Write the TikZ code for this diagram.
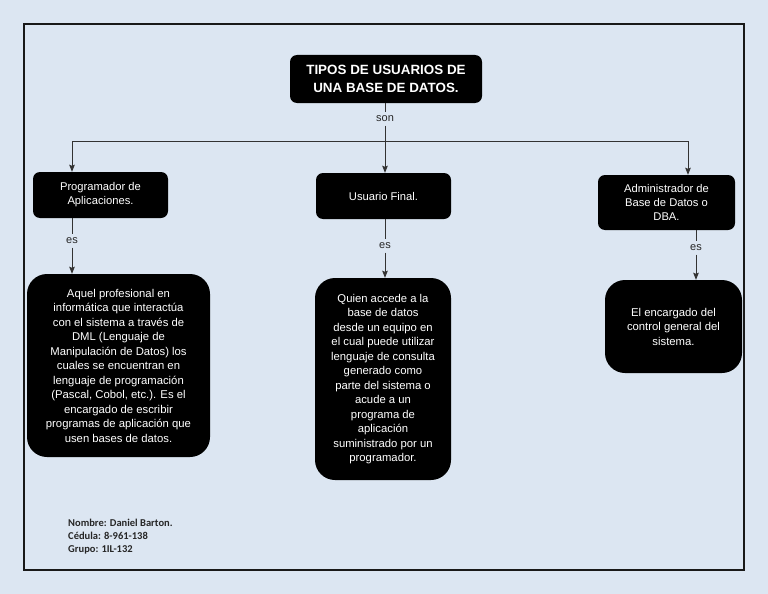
\documentclass[tikz,border=0pt]{standalone}
\usepackage{fontspec}
\setmainfont{Liberation Sans}
\newfontfamily\firmafont{Carlito}
\usetikzlibrary{arrows.meta}
\definecolor{fondo}{HTML}{DCE6F2}
\definecolor{trazo}{HTML}{333333}
\tikzset{
  caja/.style={fill=black, text=white, rounded corners=7pt, align=center,
    font=\fontsize{11.2}{14}\selectfont, inner sep=0pt},
  cajagrande/.style={caja, rounded corners=20pt, font=\fontsize{11.3}{14.5}\selectfont},
  etiqueta/.style={font=\fontsize{11}{13}\selectfont, text=black!85, inner sep=3.5pt},
  conector/.style={draw=trazo, line width=0.9pt},
  flecha/.style={conector, -{Stealth[length=7pt, width=5.5pt, inset=1pt]}},
}
\begin{document}
\begin{tikzpicture}[x=1pt, y=-1pt]
\fill[fondo] (0,0) rectangle (768,594);
\useasboundingbox (0,0) rectangle (768,594);
\draw[line width=2pt, draw=black!90] (24,24) rectangle (744,570);

% titulo
\node[caja, minimum width=192pt, minimum height=48pt,
  font=\bfseries\fontsize{13.4}{18}\selectfont] (titulo) at (386,79)
  {TIPOS DE USUARIOS DE\\UNA BASE DE DATOS.};
\node[etiqueta] (son) at (385,119) {son};

% tipos
\node[caja, minimum width=135pt, minimum height=46pt] (prog) at (100.5,195) {Programador de\\Aplicaciones.};
\node[caja, minimum width=135pt, minimum height=46pt] (final) at (383.5,196) {Usuario Final.};
\node[caja, minimum width=137pt, minimum height=55pt] (dba) at (666.5,202.5) {Administrador de\\Base de Datos o\\DBA.};

% descripciones
\node[etiqueta] (es1) at (72,241) {es};
\node[etiqueta] (es2) at (385,246) {es};
\node[etiqueta] (es3) at (696,248) {es};
\node[cajagrande, minimum width=183pt, minimum height=183pt] (desc1) at (118.5,365.5)
  {Aquel profesional en\\informática que interactúa\\con el sistema a través de\\DML (Lenguaje de\\Manipulación de Datos) los\\cuales se encuentran en\\lenguaje de programación\\(Pascal, Cobol, etc.). Es el\\encargado de escribir\\programas de aplicación que\\usen bases de datos.};
\node[cajagrande, minimum width=136pt, minimum height=202pt] (desc2) at (383,379)
  {Quien accede a la\\base de datos\\desde un equipo en\\el cual puede utilizar\\lenguaje de consulta\\generado como\\parte del sistema o\\acude a un\\programa de\\aplicación\\suministrado por un\\programador.};
\node[cajagrande, minimum width=137pt, minimum height=93pt] (desc3) at (673.5,326.5)
  {El encargado del\\control general del\\sistema.};

% firma
\node[anchor=north west, align=left, inner sep=0pt,
  font=\firmafont\bfseries\fontsize{10.5}{13}\selectfont, text=black!85] (firma) at (68,519)
  {Nombre: Daniel Barton.\\Cédula: 8-961-138\\Grupo: 1IL-132};

% conectores
\coordinate (izq) at (72,141);
\coordinate (der) at (688,141);
\draw[conector] (titulo.south -| son) -- (son.north);
\draw[conector] (izq) -- (der);
\draw[flecha] (son.south) -- (son.south |- final.north);
\draw[flecha] (izq) -- (izq |- prog.north);
\draw[flecha] (der) -- (der |- dba.north);

\draw[conector] (prog.south -| es1) -- (es1.north);
\draw[flecha] (es1.south) -- (es1.south |- desc1.north);
\draw[conector] (final.south -| es2) -- (es2.north);
\draw[flecha] (es2.south) -- (es2.south |- desc2.north);
\draw[conector] (dba.south -| es3) -- (es3.north);
\draw[flecha] (es3.south) -- (es3.south |- desc3.north);
\end{tikzpicture}
\end{document}
